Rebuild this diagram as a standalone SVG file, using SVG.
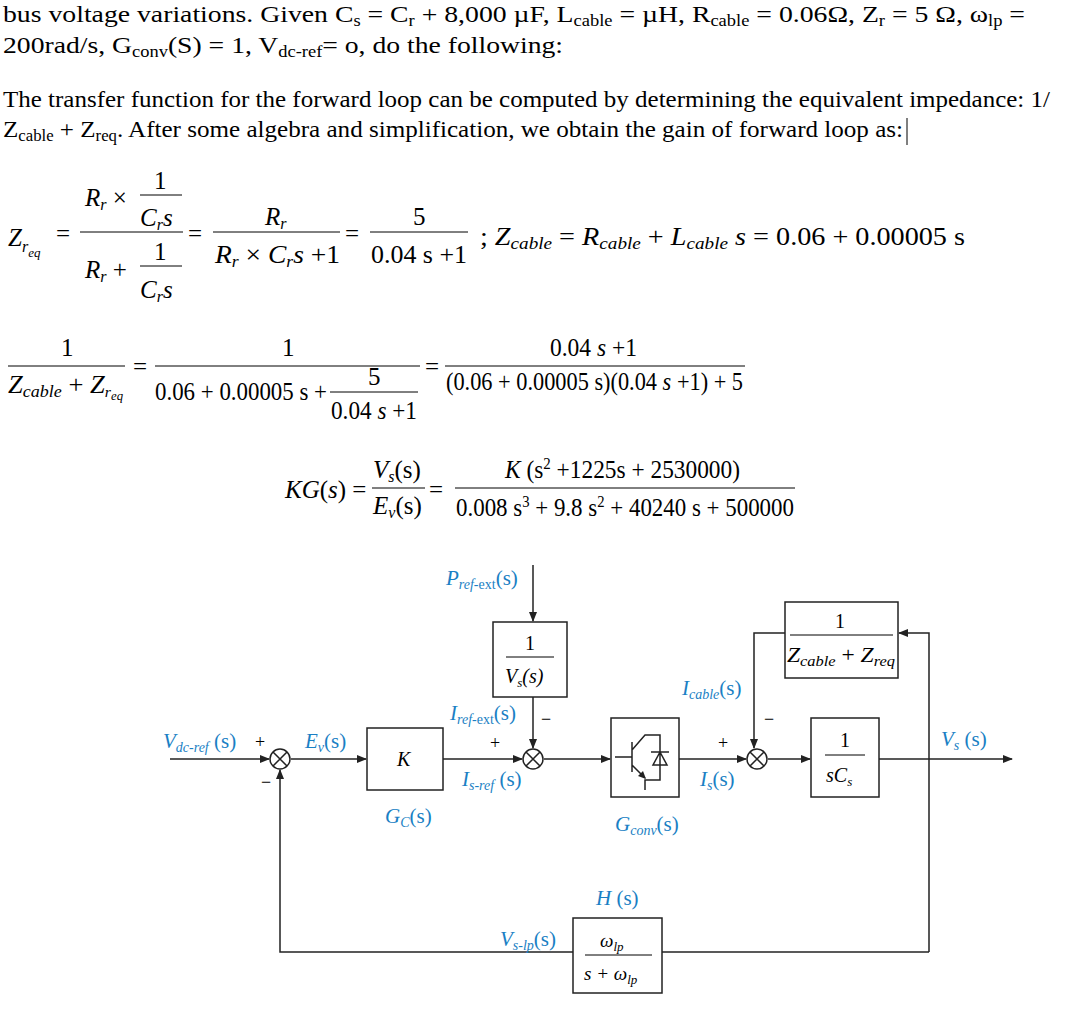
<svg xmlns="http://www.w3.org/2000/svg" width="1073" height="1015" viewBox="0 0 1073 1015">
<defs>
<marker id="ah" markerWidth="10" markerHeight="8" refX="9" refY="4" orient="auto" markerUnits="userSpaceOnUse"><path d="M0,0 L10,4 L0,8 z" fill="#222"/></marker>
</defs>
<style>
text{font-family:"Liberation Serif",serif;fill:#000}
.t{font-size:24px}
.m{font-size:25px}
.i{font-style:italic}
.b{fill:#1a7fc4;font-style:italic;font-size:21px}
.bx{fill:#fff;stroke:#222;stroke-width:1.5}
.ln{stroke:#222;stroke-width:1.5;fill:none}
.fl{stroke:#000;stroke-width:1}
</style>
<rect width="1073" height="1015" fill="#fff"/>
<g id="text">
<text class="t" x="3" y="22" textLength="1022" lengthAdjust="spacingAndGlyphs">bus voltage variations. Given C<tspan font-size="16" dy="4">s</tspan><tspan dy="-4"> = C</tspan><tspan font-size="16" dy="4">r</tspan><tspan dy="-4">  + 8,000 µF, L</tspan><tspan font-size="16" dy="4">cable</tspan><tspan dy="-4"> = µH, R</tspan><tspan font-size="16" dy="4">cable</tspan><tspan dy="-4"> = 0.06Ω, Z</tspan><tspan font-size="16" dy="4">r</tspan><tspan dy="-4"> = 5 Ω, ω</tspan><tspan font-size="16" dy="4">lp</tspan><tspan dy="-4"> =</tspan></text>
<text class="t" x="3" y="53" textLength="560" lengthAdjust="spacingAndGlyphs">200rad/s, G<tspan font-size="16" dy="4">conv</tspan><tspan dy="-4">(S) = 1, V</tspan><tspan font-size="16" dy="4">dc-ref</tspan><tspan dy="-4">= o, do the following:</tspan></text>
<text class="t" x="3" y="107" textLength="1047" lengthAdjust="spacingAndGlyphs">The transfer function for the forward loop can be computed by determining the equivalent impedance: 1/</text>
<text class="t" x="3" y="137" textLength="900" lengthAdjust="spacingAndGlyphs">Z<tspan font-size="16" dy="4">cable</tspan><tspan dy="-4"> + Z</tspan><tspan font-size="16" dy="4">req</tspan><tspan dy="-4">. After some algebra and simplification, we obtain the gain of forward loop as:</tspan></text>
<line x1="907" y1="118" x2="907" y2="145" stroke="#000" stroke-width="1"/>
</g>
<g id="eq1">
<text class="m i" x="8" y="246">Z<tspan font-size="16" dy="6">r</tspan><tspan font-size="13" dy="5">eq</tspan></text>
<text class="m" x="56" y="242">=</text>
<line class="fl" x1="80" y1="232" x2="183" y2="232"/>
<text class="m i" x="85" y="206">R<tspan font-size="16" dy="4">r</tspan><tspan dy="-4" font-style="normal"> ×</tspan></text>
<line class="fl" x1="140" y1="195" x2="182" y2="195"/>
<text class="m" x="154" y="189">1</text>
<text class="m i" x="140" y="226">C<tspan font-size="16" dy="4">r</tspan><tspan dy="-4">s</tspan></text>
<text class="m i" x="85" y="278">R<tspan font-size="16" dy="4">r</tspan><tspan dy="-4" font-style="normal"> +</tspan></text>
<line class="fl" x1="140" y1="266" x2="182" y2="266"/>
<text class="m" x="154" y="260">1</text>
<text class="m i" x="140" y="298">C<tspan font-size="16" dy="4">r</tspan><tspan dy="-4">s</tspan></text>
<text class="m" x="188" y="242">=</text>
<text class="m i" x="265" y="225">R<tspan font-size="16" dy="4">r</tspan></text>
<line class="fl" x1="213" y1="232" x2="340" y2="232"/>
<text class="m i" x="215" y="263" textLength="125" lengthAdjust="spacingAndGlyphs">R<tspan font-size="16" dy="4">r</tspan><tspan dy="-4" font-style="normal"> × </tspan>C<tspan font-size="16" dy="4">r</tspan><tspan dy="-4">s<tspan font-style="normal"> +1</tspan></tspan></text>
<text class="m" x="345" y="242">=</text>
<text class="m" x="413" y="225">5</text>
<line class="fl" x1="370" y1="232" x2="468" y2="232"/>
<text class="m" x="371" y="263" textLength="96" lengthAdjust="spacingAndGlyphs">0.04 s +1</text>
<text class="m" x="480" y="245" textLength="485" lengthAdjust="spacingAndGlyphs">; <tspan font-style="italic">Z<tspan font-size="17" dy="4">cable</tspan></tspan><tspan dy="-4"> = </tspan><tspan font-style="italic">R<tspan font-size="17" dy="4">cable</tspan></tspan><tspan dy="-4"> + </tspan><tspan font-style="italic">L<tspan font-size="17" dy="4">cable</tspan><tspan dy="-4"> s</tspan></tspan> = 0.06 + 0.00005 s</text>
</g>
<g id="eq2">
<text class="m" x="61" y="356">1</text>
<line class="fl" x1="8" y1="366" x2="125" y2="366"/>
<text class="m i" x="8" y="393" textLength="115" lengthAdjust="spacingAndGlyphs">Z<tspan font-size="17" dy="4">cable</tspan><tspan dy="-4" font-style="normal"> + </tspan>Z<tspan font-size="15" dy="4">r</tspan><tspan font-size="12" dy="3">eq</tspan></text>
<text class="m" x="133" y="375">=</text>
<text class="m" x="282" y="356">1</text>
<line class="fl" x1="155" y1="366" x2="420" y2="366"/>
<text class="m" x="155" y="400" textLength="172" lengthAdjust="spacingAndGlyphs">0.06 + 0.00005 s +</text>
<text class="m" x="368" y="385">5</text>
<line class="fl" x1="330" y1="392" x2="418" y2="392"/>
<text class="m" x="331" y="419" textLength="86" lengthAdjust="spacingAndGlyphs">0.04 <tspan font-style="italic">s</tspan> +1</text>
<text class="m" x="425" y="375">=</text>
<text class="m" x="550" y="356" textLength="87" lengthAdjust="spacingAndGlyphs">0.04 <tspan font-style="italic">s</tspan> +1</text>
<line class="fl" x1="445" y1="366" x2="745" y2="366"/>
<text class="m" x="446" y="390" textLength="297" lengthAdjust="spacingAndGlyphs">(0.06 + 0.00005 s)(0.04 <tspan font-style="italic">s</tspan> +1) + 5</text>
</g>
<g id="eq3">
<text class="m" x="285" y="498"><tspan font-style="italic">KG</tspan>(<tspan font-style="italic">s</tspan>) =</text>
<text class="m i" x="373" y="478">V<tspan font-size="16" dy="4">s</tspan><tspan dy="-4" font-style="normal">(s)</tspan></text>
<line class="fl" x1="372" y1="488" x2="425" y2="488"/>
<text class="m i" x="373" y="514">E<tspan font-size="16" dy="4">v</tspan><tspan dy="-4" font-style="normal">(s)</tspan></text>
<text class="m" x="429" y="498">=</text>
<text class="m" x="505" y="478" textLength="235" lengthAdjust="spacingAndGlyphs"><tspan font-style="italic">K</tspan> (s<tspan font-size="16" dy="-9">2</tspan><tspan dy="9"> +1225s + 2530000)</tspan></text>
<line class="fl" x1="455" y1="488" x2="795" y2="488"/>
<text class="m" x="456" y="516" textLength="338" lengthAdjust="spacingAndGlyphs">0.008 s<tspan font-size="16" dy="-9">3</tspan><tspan dy="9"> + 9.8 s</tspan><tspan font-size="16" dy="-9">2</tspan><tspan dy="9"> + 40240 s + 500000</tspan></text>
</g>
<g id="connectors">
<line class="ln" x1="170" y1="759" x2="269" y2="759" marker-end="url(#ah)"/>
<line class="ln" x1="291" y1="759" x2="366" y2="759" marker-end="url(#ah)"/>
<line class="ln" x1="443" y1="759" x2="522" y2="759" marker-end="url(#ah)"/>
<line class="ln" x1="533" y1="565" x2="533" y2="621" marker-end="url(#ah)"/>
<line class="ln" x1="533" y1="697" x2="533" y2="748" marker-end="url(#ah)"/>
<line class="ln" x1="544" y1="759" x2="610" y2="759" marker-end="url(#ah)"/>
<line class="ln" x1="679" y1="759" x2="746" y2="759" marker-end="url(#ah)"/>
<line class="ln" x1="768" y1="759" x2="810" y2="759" marker-end="url(#ah)"/>
<line class="ln" x1="879" y1="759" x2="1012" y2="759" marker-end="url(#ah)"/>
<polyline class="ln" points="785,633 754,633 754,748" marker-end="url(#ah)"/>
<polyline class="ln" points="929,952 929,633 899,633" marker-end="url(#ah)"/>
<line class="ln" x1="929" y1="952" x2="662" y2="952"/>
<polyline class="ln" points="573,952 280,952 280,770" marker-end="url(#ah)"/>
</g>
<g id="sum1"><circle class="bx" cx="280" cy="759" r="10"/><path class="ln" d="M273,752 L287,766 M287,752 L273,766"/></g>
<g id="sum2"><circle class="bx" cx="533" cy="759" r="10"/><path class="ln" d="M526,752 L540,766 M540,752 L526,766"/></g>
<g id="sum3"><circle class="bx" cx="757" cy="759" r="10"/><path class="ln" d="M750,752 L764,766 M764,752 L750,766"/></g>
<g id="K"><rect class="bx" x="367" y="728" width="76" height="62"/><text class="i" font-size="20" x="397" y="766">K</text></g>
<g id="invVs"><rect class="bx" x="493" y="622" width="74" height="75"/><text font-size="20" x="525" y="650">1</text><line class="fl" x1="506" y1="657" x2="554" y2="657" stroke="#777"/><text class="i" font-size="20" x="505" y="683">V<tspan font-size="13" dy="4">s</tspan><tspan dy="-4">(s)</tspan></text></g>
<g id="conv"><rect class="bx" x="611" y="718" width="68" height="79"/>
<path class="ln" d="M615,757 L632,757 M632,742 L632,772 M632,750 L645,735 L660,735 L660,780 L645,780 L645,790 M632,765 L645,778 M651,752 L669,752 M660,752 L653,765 L667,765 Z"/>
<path d="M646,779 L638,776 L643,771 Z" fill="#222"/></g>
<g id="invCs"><rect class="bx" x="811" y="718" width="68" height="79"/><text font-size="20" x="840" y="747">1</text><line class="fl" x1="825" y1="755" x2="865" y2="755" stroke="#777"/><text class="i" font-size="20" x="826" y="782">sC<tspan font-size="13" dy="4">s</tspan></text></g>
<g id="cable"><rect class="bx" x="785" y="602" width="113" height="76"/><text font-size="20" x="835" y="628">1</text><line class="fl" x1="790" y1="635" x2="893" y2="635" stroke="#777"/><text font-size="20" x="787" y="662" textLength="108" lengthAdjust="spacingAndGlyphs"><tspan font-style="italic">Z<tspan font-size="14" dy="4">cable</tspan></tspan><tspan dy="-4"> + </tspan><tspan font-style="italic">Z<tspan font-size="14" dy="4">req</tspan></tspan></text></g>
<g id="H"><rect class="bx" x="573" y="918" width="89" height="75"/><text class="i" font-size="19" x="600" y="947">ω<tspan font-size="13" dy="4">lp</tspan></text><line class="fl" x1="585" y1="955" x2="652" y2="955" stroke="#777"/><text class="i" font-size="19" x="584" y="980">s + ω<tspan font-size="13" dy="4">lp</tspan></text></g>
<g id="labels">
<text class="b" x="446" y="585">P<tspan font-size="14" dy="4">ref-</tspan><tspan font-size="14" font-style="normal">ext</tspan><tspan dy="-4" font-style="normal">(s)</tspan></text>
<text class="b" x="163" y="748">V<tspan font-size="14" dy="4">dc-ref</tspan><tspan dy="-4" font-style="normal"> (s)</tspan></text>
<text font-size="18" x="255" y="748">+</text>
<text font-size="18" x="261" y="788">−</text>
<text class="b" x="305" y="748">E<tspan font-size="14" dy="4">v</tspan><tspan dy="-4" font-style="normal">(s)</tspan></text>
<text class="b" x="450" y="720">I<tspan font-size="14" dy="4">ref-</tspan><tspan font-size="14" font-style="normal">ext</tspan><tspan dy="-4" font-style="normal">(s)</tspan></text>
<text font-size="18" x="541" y="725">−</text>
<text font-size="18" x="490" y="749">+</text>
<text class="b" x="462" y="786">I<tspan font-size="14" dy="4">s-ref</tspan><tspan dy="-4" font-style="normal"> (s)</tspan></text>
<text class="b" x="385" y="823">G<tspan font-size="14" dy="4">C</tspan><tspan dy="-4" font-style="normal">(s)</tspan></text>
<text class="b" x="682" y="695">I<tspan font-size="14" dy="4">cable</tspan><tspan dy="-4" font-style="normal">(s)</tspan></text>
<text font-size="18" x="764" y="725">−</text>
<text font-size="18" x="718" y="749">+</text>
<text class="b" x="700" y="786">I<tspan font-size="14" dy="4">s</tspan><tspan dy="-4" font-style="normal">(s)</tspan></text>
<text class="b" x="615" y="831">G<tspan font-size="14" dy="4">conv</tspan><tspan dy="-4" font-style="normal">(s)</tspan></text>
<text class="b" x="941" y="746">V<tspan font-size="14" dy="4">s</tspan><tspan dy="-4" font-style="normal"> (s)</tspan></text>
<text class="b" x="596" y="905">H <tspan font-style="normal">(s)</tspan></text>
<text class="b" x="500" y="946">V<tspan font-size="14" dy="4">s-lp</tspan><tspan dy="-4" font-style="normal">(s)</tspan></text>
</g>
</svg>
